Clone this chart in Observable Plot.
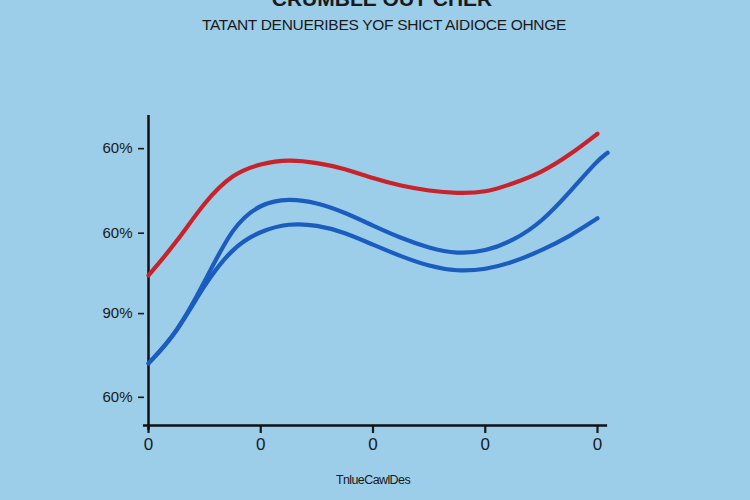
<!DOCTYPE html>
<html>
<head>
<meta charset="utf-8">
<script src="https://cdn.jsdelivr.net/npm/d3@7"></script>
<script src="https://cdn.jsdelivr.net/npm/@observablehq/plot@0.6"></script>
<style>
  html, body { margin: 0; padding: 0; background: #9ccde9; }
  #wrap { width: 750px; height: 500px; overflow: hidden; position: relative; background: #9ccde9; font-family: "Liberation Sans", Arial, sans-serif; color: #1a1a1a; }
  #title { height: 8px; overflow: hidden; position: relative; }
  #title span { position: absolute; left: 0; right: 0; bottom: -2px; text-align: center; font-weight: bold; font-size: 21px; line-height: 22px; letter-spacing: 0px; padding-left: 14px; }
  #subtitle { height: 32px; text-align: center; font-size: 15.5px; line-height: 34px; letter-spacing: -0.3px; padding-left: 18px; }
  #chart g[aria-label="x-axis label"] text { font-size: 12.5px; letter-spacing: -0.6px; }
</style>
</head>
<body>
<div id="wrap">
  <div id="title"><span>CRUMBLE OUT CHER</span></div>
  <div id="subtitle">TATANT DENUERIBES YOF SHICT AIDIOCE OHNGE</div>
  <div id="chart"></div>
</div>
<script>
// x positions of sampled points
const xs = [0, 0.25, 0.5, 0.75, 1, 1.25, 1.5, 1.75, 2, 2.25, 2.5, 2.75, 3, 3.25, 3.5, 3.75, 4];
const redValues = [1.47, 1.87, 2.36, 2.70, 2.82, 2.87, 2.83, 2.76, 2.64, 2.55, 2.49, 2.46, 2.47, 2.58, 2.71, 2.92, 3.18];
const blueUpperX = [0, 0.25, 0.5, 0.75, 1, 1.25, 1.5, 1.75, 2, 2.25, 2.5, 2.75, 3, 3.25, 3.5, 3.75, 4, 4.09];
const blueUpperValues = [0.41, 0.77, 1.39, 2.07, 2.34, 2.40, 2.35, 2.23, 2.07, 1.92, 1.80, 1.73, 1.76, 1.89, 2.11, 2.47, 2.86, 2.95];
const blueLowerValues = [0.41, 0.77, 1.37, 1.81, 2.01, 2.10, 2.08, 1.99, 1.84, 1.70, 1.58, 1.52, 1.54, 1.63, 1.77, 1.94, 2.16];

const xTicks = [0, 1, 2, 3, 4];
const xTickLabels = ["0", "0", "0", "0", "0"];
const yTicks = [0, 1.01, 1.98, 3.0];
const yTickLabels = ["60%", "90%", "60%", "60%"];
const xLabel = "TnlueCawlDes";
const xDomain = [0, 4];
const yDomain = [-0.34, 3.4];

const red = xs.map((x, i) => ({x, y: redValues[i], s: "red"}));
const blueUpper = blueUpperX.map((x, i) => ({x, y: blueUpperValues[i], s: "upper"}));
const blueLower = xs.map((x, i) => ({x, y: blueLowerValues[i], s: "lower"}));

const chart = Plot.plot({
  width: 750,
  height: 460,
  marginLeft: 148,
  marginRight: 153,
  marginTop: 75,
  marginBottom: 75,
  style: { background: "transparent", fontFamily: "Liberation Sans, Arial, sans-serif", color: "#1a1a1a", overflow: "visible" },
  x: { domain: xDomain },
  y: { domain: yDomain },
  marks: [
    Plot.axisY({
      ticks: yTicks,
      tickFormat: (d, i) => yTickLabels[i],
      tickSize: 6,
      tickPadding: 6,
      dx: -4,
      fontSize: 15,
      label: null,
      stroke: "#1a1a1a",
      strokeWidth: 1.6
    }),
    Plot.axisX({
      ticks: xTicks,
      tickFormat: (d, i) => xTickLabels[i],
      tickSize: 8,
      tickPadding: 4,
      fontSize: 17,
      label: xLabel,
      labelAnchor: "center",
      labelArrow: "none",
      labelOffset: 58,
      stroke: "#1a1a1a",
      strokeWidth: 2.2
    }),
    Plot.ruleX([xDomain[0]], { y1: yDomain[0] - 0.06, y2: yDomain[1], stroke: "#111", strokeWidth: 2.5 }),
    Plot.ruleY([yDomain[0]], { x1: xDomain[0] - 0.045, x2: 4.09, stroke: "#111", strokeWidth: 2.5 }),
    Plot.line(blueLower, { x: "x", y: "y", stroke: "#1a5cc0", strokeWidth: 4.2, curve: "basis", strokeLinecap: "round" }),
    Plot.line(blueUpper, { x: "x", y: "y", stroke: "#1a5cc0", strokeWidth: 4.2, curve: "basis", strokeLinecap: "round" }),
    Plot.line(red, { x: "x", y: "y", stroke: "#c8222a", strokeWidth: 4.2, curve: "basis", strokeLinecap: "round" })
  ]
});
document.getElementById("chart").appendChild(chart);
</script>
</body>
</html>
